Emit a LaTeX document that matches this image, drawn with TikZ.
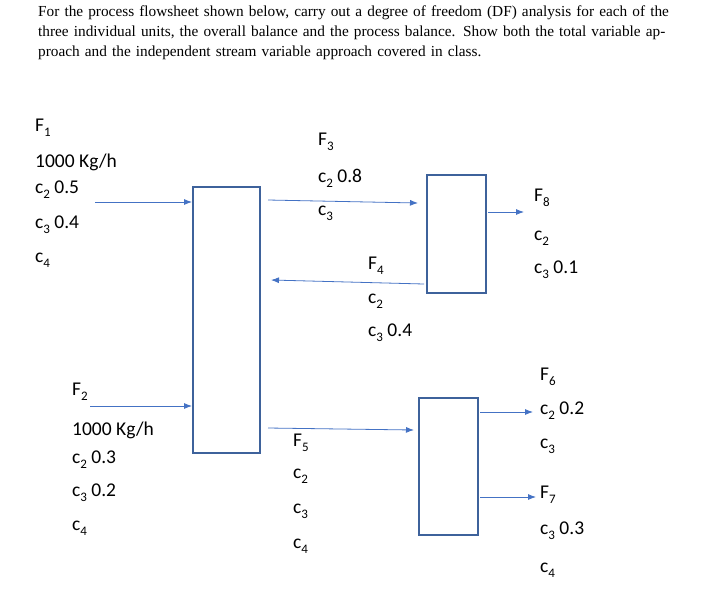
\documentclass[tikz,border=0pt]{standalone}
\usepackage{fontspec}
\usetikzlibrary{arrows.meta}
\setmainfont{Carlito}
\newfontfamily\serifft{Liberation Serif}
\definecolor{boxc}{RGB}{62,98,155}
\definecolor{arrc}{RGB}{68,114,196}
\newcommand{\sbx}[1]{\raisebox{-0.55ex}{\fontsize{13}{13}\selectfont #1}}
\begin{document}
\begin{tikzpicture}[x=1pt,y=-1pt,
  unit/.style={draw=boxc,line width=1.8pt},
  flow/.style={draw=arrc,line width=0.8pt,-{Latex[length=8pt,width=6pt]}},
  lab/.style={anchor=west,inner sep=0pt,font=\fontsize{19.5}{19.5}\selectfont}]
\useasboundingbox (0,0) rectangle (708,614);
\node[anchor=north west,inner sep=0pt,text width=640pt,font=\serifft\fontsize{15.3}{20}\selectfont] (hdr) at (38,6)
 {For the process flowsheet shown below, carry out a degree of freedom (DF) analysis for each of the three individual units, the overall balance and the process balance. Show both the total variable approach and the independent stream variable approach covered in class.};
\draw[unit] (193,187) rectangle (260,453);
\draw[unit] (427,175) rectangle (486,293);
\draw[unit] (419,398) rectangle (478,535);
\coordinate (a1) at (95,202); \coordinate (a1e) at (192,202);
\coordinate (a2) at (90,406); \coordinate (a2e) at (192,406);
\coordinate (a3) at (268,200); \coordinate (a3e) at (418,203);
\coordinate (a4) at (424,284); \coordinate (a4e) at (271,280);
\coordinate (a8) at (488,212); \coordinate (a8e) at (524,212);
\coordinate (a5) at (268,428); \coordinate (a5e) at (414,430);
\coordinate (a6) at (480,412); \coordinate (a6e) at (533,412);
\coordinate (a7) at (480,497); \coordinate (a7e) at (536,497);
\foreach \s in {1,2,3,4,8,5,6,7} \draw[flow] (a\s) -- (a\s e);
\node[lab] (l1) at (35,128) {F\sbx{1}};
\node[lab] (l2) at (35,162) {1000 Kg/h};
\node[lab] (l3) at (35,190) {c\sbx{2} 0.5};
\node[lab] (l4) at (35,225) {c\sbx{3} 0.4};
\node[lab] (l5) at (35,260) {c\sbx{4}};
\node[lab] (m1) at (318,142) {F\sbx{3}};
\node[lab] (m2) at (318,178) {c\sbx{2} 0.8};
\node[lab] (m3) at (318,213) {c\sbx{3}};
\node[lab] (n1) at (368,266) {F\sbx{4}};
\node[lab] (n2) at (368,301) {c\sbx{2}};
\node[lab] (n3) at (368,333) {c\sbx{3} 0.4};
\node[lab] (o1) at (534,198) {F\sbx{8}};
\node[lab] (o2) at (534,238) {c\sbx{2}};
\node[lab] (o3) at (534,270) {c\sbx{3} 0.1};
\node[lab] (p1) at (72,392) {F\sbx{2}};
\node[lab] (p2) at (72,430) {1000 Kg/h};
\node[lab] (p3) at (72,460) {c\sbx{2} 0.3};
\node[lab] (p4) at (72,493) {c\sbx{3} 0.2};
\node[lab] (p5) at (72,528) {c\sbx{4}};
\node[lab] (q1) at (293,443) {F\sbx{5}};
\node[lab] (q2) at (293,476) {c\sbx{2}};
\node[lab] (q3) at (293,511) {c\sbx{3}};
\node[lab] (q4) at (293,546) {c\sbx{4}};
\node[lab] (r1) at (540,377) {F\sbx{6}};
\node[lab] (r2) at (540,411) {c\sbx{2} 0.2};
\node[lab] (r3) at (540,446) {c\sbx{3}};
\node[lab] (s1) at (540,495) {F\sbx{7}};
\node[lab] (s2) at (540,531) {c\sbx{3} 0.3};
\node[lab] (s3) at (540,570) {c\sbx{4}};
\end{tikzpicture}
\end{document}
